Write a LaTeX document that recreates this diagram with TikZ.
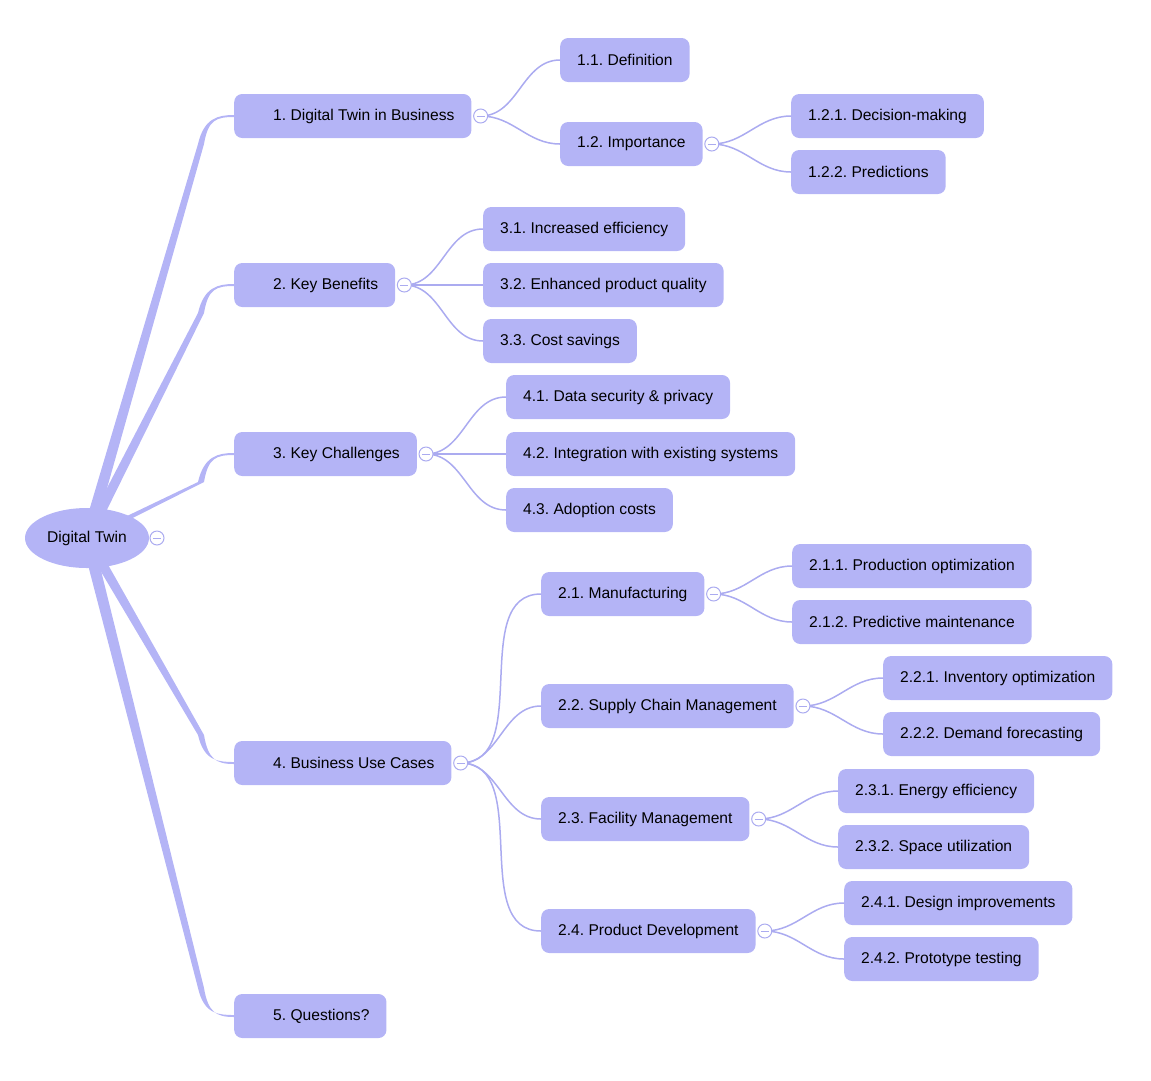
\documentclass[tikz,border=0pt]{standalone}
\usepackage{fontspec}
\setmainfont{Liberation Sans}
\usetikzlibrary{positioning,calc,shapes.geometric}
\definecolor{lav}{HTML}{B4B4F6}
\definecolor{lavline}{HTML}{ABABF0}
\frenchspacing

\tikzset{
  box/.style = {draw=none, fill=lav, rounded corners=8pt, anchor=west,
                minimum height=44pt, inner xsep=17pt,
                font=\fontsize{15.6}{18}\selectfont},
  topic/.style = {box, execute at begin node={\hspace*{22pt}}},
  fold/.style = {circle, draw=lavline, fill=white, line width=1pt,
                 minimum size=14pt, inner sep=0pt,
                 path picture={\draw[lavline, line width=0.8pt]
                   ([xshift=-4pt]path picture bounding box.center) --
                   ([xshift=4pt]path picture bounding box.center);}},
  link/.style = {draw=lavline, line width=1.5pt, out=0, in=180},
}

\begin{document}
\begin{tikzpicture}[x=1pt, y=-1pt]
\useasboundingbox (0,0) rectangle (1151,1080);

% connectors first, so the boxes sit on top
\path (234,116) coordinate (c1) (234,285) coordinate (c2) (234,454) coordinate (c3)
      (234,763) coordinate (c4) (234,1016) coordinate (c5) (87,538) coordinate (c0);

% tapered branches from the root
\foreach \n/\s in {c1/1, c2/1, c3/1, c4/-1, c5/-1} {
  \fill[lav] ($(c0)+(-6,0)$)
    -- ($(\n)+(-36,\s*28)$) .. controls ($(\n)+(-30,\s*2)$) and ($(\n)+(-16,-1)$) .. ($(\n)+(0,-1)$)
    -- ($(\n)+(0,1)$) .. controls ($(\n)+(-18,1)$) and ($(\n)+(-26,\s*4)$) .. ($(\n)+(-30,\s*28)$)
    -- ($(c0)+(6,0)$) -- cycle;
}

% root
\node[ellipse, fill=lav, minimum width=124pt, minimum height=60pt,
      font=\fontsize{15.6}{18}\selectfont] (root) at (c0) {Digital Twin};
\node[fold] (froot) at (157,538) {};

% first level
\node[topic] (n1) at (c1) {1. Digital Twin in Business};
\node[topic] (n2) at (c2) {2. Key Benefits};
\node[topic] (n3) at (c3) {3. Key Challenges};
\node[topic] (n4) at (c4) {4. Business Use Cases};
\node[topic] (n5) at (c5) {5. Questions?};

% branch 1
\node[box] (n11) at (560,60) {1.1. Definition};
\node[box] (n12) at (560,144) {1.2. Importance};
\node[box] (n121) at (791,116) {1.2.1. Decision-making};
\node[box] (n122) at (791,172) {1.2.2. Predictions};

% branch 2
\node[box] (n21) at (483,229) {3.1. Increased efficiency};
\node[box] (n22) at (483,285) {3.2. Enhanced product quality};
\node[box] (n23) at (483,341) {3.3. Cost savings};

% branch 3
\node[box] (n31) at (506,397) {4.1. Data security \& privacy};
\node[box] (n32) at (506,454) {4.2. Integration with existing systems};
\node[box] (n33) at (506,510) {4.3. Adoption costs};

% branch 4
\node[box] (n41) at (541,594) {2.1. Manufacturing};
\node[box] (n411) at (792,566) {2.1.1. Production optimization};
\node[box] (n412) at (792,622) {2.1.2. Predictive maintenance};
\node[box] (n42) at (541,706) {2.2. Supply Chain Management};
\node[box] (n421) at (883,678) {2.2.1. Inventory optimization};
\node[box] (n422) at (883,734) {2.2.2. Demand forecasting};
\node[box] (n43) at (541,819) {2.3. Facility Management};
\node[box] (n431) at (838,791) {2.3.1. Energy efficiency};
\node[box] (n432) at (838,847) {2.3.2. Space utilization};
\node[box] (n44) at (541,931) {2.4. Product Development};
\node[box] (n441) at (844,903) {2.4.1. Design improvements};
\node[box] (n442) at (844,959) {2.4.2. Prototype testing};

% connectors
\foreach \p/\c in {n1/n11, n1/n12, n12/n121, n12/n122,
                   n2/n21, n2/n22, n2/n23, n3/n31, n3/n32, n3/n33,
                   n4/n41, n4/n42, n4/n43, n4/n44,
                   n41/n411, n41/n412, n42/n421, n42/n422,
                   n43/n431, n43/n432, n44/n441, n44/n442}
  \draw[link] ($(\p.east)+(9,0)$) to (\c.west);

% fold markers
\foreach \p in {n1, n12, n2, n3, n4, n41, n42, n43, n44}
  \node[fold] (f\p) at ($(\p.east)+(9,0)$) {};
\end{tikzpicture}
\end{document}
